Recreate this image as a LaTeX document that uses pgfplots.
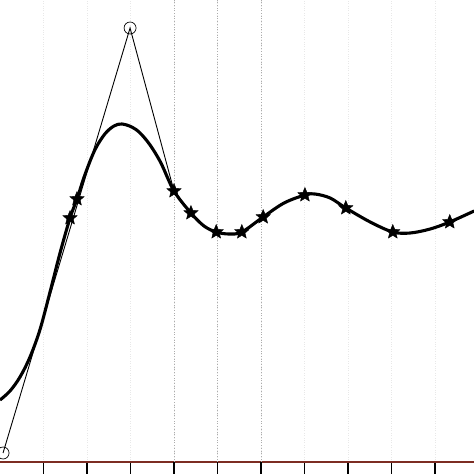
\documentclass[border=0pt]{standalone}
\usepackage{pgfplots}
\pgfplotsset{compat=1.18}
\definecolor{axisred}{RGB}{125,45,35}

% filled five-pointed star
\pgfdeclareplotmark{fstar}{%
  \pgfpathmoveto{\pgfpointpolar{90}{\pgfplotmarksize}}%
  \pgfpathlineto{\pgfpointpolar{126}{0.45\pgfplotmarksize}}%
  \pgfpathlineto{\pgfpointpolar{162}{\pgfplotmarksize}}%
  \pgfpathlineto{\pgfpointpolar{198}{0.45\pgfplotmarksize}}%
  \pgfpathlineto{\pgfpointpolar{234}{\pgfplotmarksize}}%
  \pgfpathlineto{\pgfpointpolar{270}{0.45\pgfplotmarksize}}%
  \pgfpathlineto{\pgfpointpolar{306}{\pgfplotmarksize}}%
  \pgfpathlineto{\pgfpointpolar{342}{0.45\pgfplotmarksize}}%
  \pgfpathlineto{\pgfpointpolar{18}{\pgfplotmarksize}}%
  \pgfpathlineto{\pgfpointpolar{54}{0.45\pgfplotmarksize}}%
  \pgfpathclose
  \pgfusepathqfillstroke
}

\begin{document}
\begin{tikzpicture}
  \begin{axis}[
    scale only axis,
    width=474pt, height=462pt,
    xmin=0, xmax=10.897,
    ymin=0, ymax=1.848,
    axis x line*=bottom,
    axis y line=none,
    x axis line style={axisred, line width=1.3pt, -},
    xtick={1,2,...,10},
    xticklabels={},
    ytick=\empty,
    tick align=outside,
    major tick length=12pt,
    x tick style={black, line width=1.3pt},
    xmajorgrids=true,
    grid style={gray!18, dotted, line width=0.7pt},
    extra x ticks={4,5,6},
    extra x tick labels={},
    extra x tick style={grid style={gray!65, dotted, line width=0.9pt}},
    ]
    % response curve
    \addplot[black, line width=3.1pt, smooth, tension=0.55] coordinates {
      (0,0.248)(0.23,0.284)(0.46,0.340)(0.69,0.420)(0.92,0.530)(1.15,0.680)
      (1.38,0.836)(1.61,0.976)(1.77,1.052)(1.95,1.148)(2.18,1.248)(2.41,1.312)
      (2.62,1.344)(2.80,1.352)(3.03,1.340)(3.22,1.316)(3.45,1.268)(3.70,1.196)
      (4.00,1.084)(4.39,0.996)(4.69,0.944)(4.97,0.920)(5.26,0.912)(5.56,0.920)
      (6.05,0.980)(6.53,1.036)(7.01,1.068)(7.24,1.072)(7.59,1.056)(7.95,1.016)
      (8.51,0.960)(9.03,0.920)(9.43,0.916)(9.89,0.932)(10.34,0.960)(10.90,1.004)
    };
    % samples
    \addplot[only marks, mark=fstar, mark size=7.5pt, mark options={black, line width=0.4pt}] coordinates {
      (1.61,0.976)(1.77,1.052)(4.00,1.084)(4.39,0.996)(4.97,0.920)(5.56,0.920)
      (6.05,0.980)(7.01,1.068)(7.95,1.016)(9.03,0.920)(10.34,0.960)
    };
    % control polygon
    \addplot[black, line width=0.9pt, mark=o, mark size=6pt, mark indices={1,2},
      mark options={fill=white, line width=0.7pt}] coordinates {
      (0.07,0.036)(2.99,1.736)(4.00,1.084)
    };
  \end{axis}
  \pgfresetboundingbox
  \path (0,-12pt) rectangle (474pt,462pt);
\end{tikzpicture}
\end{document}
